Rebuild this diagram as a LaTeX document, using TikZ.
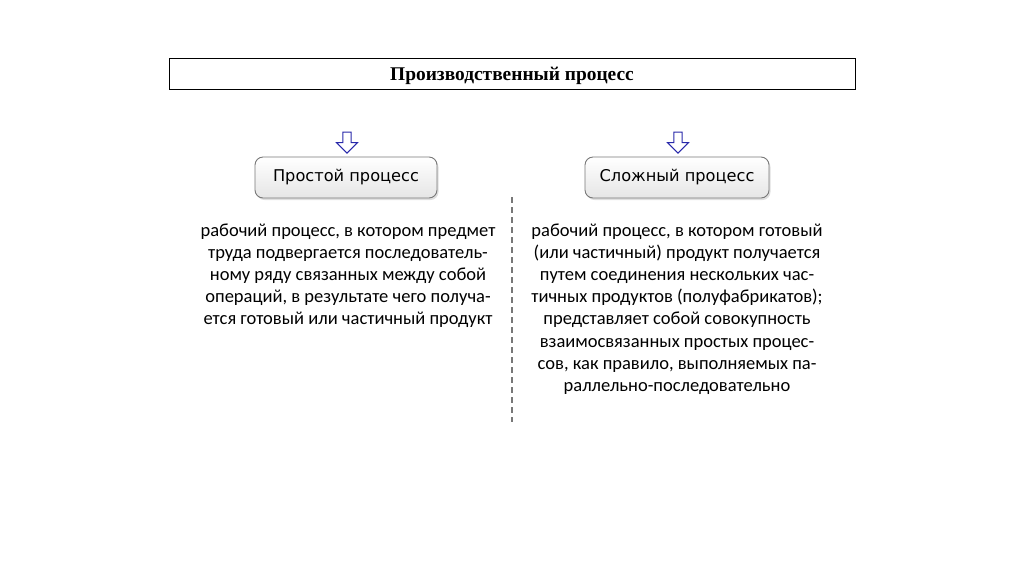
\documentclass[tikz,border=0pt]{standalone}
\usepackage{fontspec}
\setmainfont{Liberation Serif}
\newfontfamily\bodyfont{Carlito}
\newfontfamily\boxfont{DejaVu Sans}
\usetikzlibrary{shapes.arrows,shadows}

\definecolor{arrowblue}{RGB}{40,40,170}
\definecolor{boxgray}{RGB}{120,120,120}

\tikzset{
  headbox/.style={draw=black, thick, minimum width=686, minimum height=31,
    text depth=0pt, font=\bfseries\fontsize{19.4}{21}\selectfont},
  kindbox/.style={draw=boxgray, rounded corners=8pt, minimum height=41,
    top color=white, bottom color=black!10, line width=0.9pt,
    drop shadow={shadow xshift=1.5pt, shadow yshift=-2pt, opacity=0.25},
    font=\boxfont\fontsize{16.2}{18}\selectfont},
  downarrow/.style={single arrow, draw=arrowblue, fill=white, line width=1pt,
    rotate=-90, minimum height=21pt, minimum width=21pt, inner sep=3.5pt,
    single arrow head extend=6pt},
  desctext/.style={align=center, font=\bodyfont\fontsize{18.5}{22.2}\selectfont},
}

\begin{document}
\begin{tikzpicture}[x=1pt,y=-1pt]
\useasboundingbox (0,0) rectangle (1024,574);

\node[headbox] (title) at (512,74) {Производственный процесс};

\node[downarrow] (arrowsimple) at (347,140.5) {};
\node[downarrow] (arrowcomplex) at (678,140.5) {};

\node[kindbox, minimum width=182] (simple) at (346,177.5) {Простой процесс};
\node[kindbox, minimum width=184] (complex) at (677,177.5) {Сложный процесс};

\node[desctext, anchor=north] (simpledesc) at (348,220)
  {рабочий процесс, в котором предмет\\
   труда подвергается последователь-\\
   ному ряду связанных между собой\\
   операций, в результате чего получа-\\
   ется готовый или частичный продукт};

\node[desctext, anchor=north] (complexdesc) at (677,220)
  {рабочий процесс, в котором готовый\\
   (или частичный) продукт получается\\
   путем соединения нескольких час-\\
   тичных продуктов (полуфабрикатов);\\
   представляет собой совокупность\\
   взаимосвязанных простых процес-\\
   сов, как правило, выполняемых па-\\
   раллельно-последовательно};

\coordinate (divtop) at (512,197);
\coordinate (divbot) at (512,422);
\draw[boxgray, line width=1.2pt, dash pattern=on 6pt off 4pt] (divtop) -- (divbot);
\end{tikzpicture}
\end{document}
